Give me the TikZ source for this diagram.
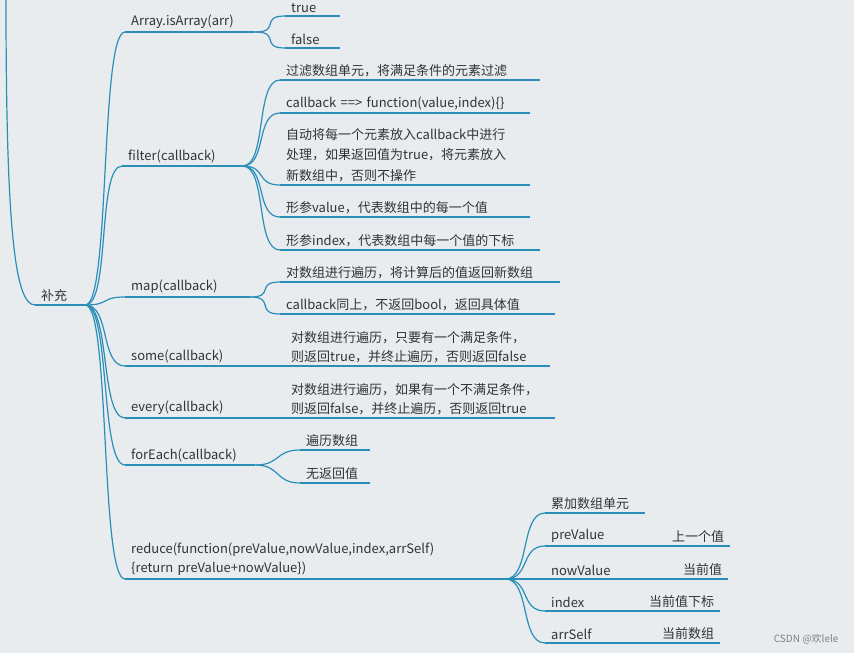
\documentclass[tikz,border=0pt]{standalone}
\usepackage{fontspec}
\setmainfont{Noto Sans CJK SC}
\definecolor{bgc}{HTML}{E9ECEF}
\definecolor{linec}{HTML}{2A8FB8}
\definecolor{txtc}{HTML}{333333}
\tikzset{
  leaf/.style={anchor=south west, inner xsep=6pt, inner ysep=3pt, align=left,
    text width=#1, text=txtc,
    append after command={(\tikzlastnode.south west) edge[branch] (\tikzlastnode.south east)}},
  branch/.style={draw=linec, line width=1.2pt},
  note/.style={anchor=south east, inner xsep=6pt, inner ysep=3pt, text=txtc}
}
\newcommand{\link}[2]{\draw[branch] (#1.south east) .. controls +(25,0) and +(-25,0) .. (#2.south west);}
\begin{document}
\begin{tikzpicture}[x=1pt,y=-1pt,font=\fontsize{13}{19}\selectfont]
  \fill[bgc] (0,0) rectangle (854,653);
  \useasboundingbox (0,0) rectangle (854,653);

  % root
  \node (root) [leaf=38pt] at (35,305) {补充};
  \coordinate (up) at (6,0);
  \draw[branch] (up) .. controls (6,230) and (15,305) .. (root.south west);

  % first level
  \node (isarr) [leaf=118pt] at (125,32) {Array.isArray(arr)};
  \node (filter) [leaf=108pt] at (122,166) {filter(callback)};
  \node (map) [leaf=113pt] at (125,297) {map(callback)};
  \node (some) [leaf=118pt] at (125,366) {some(callback)};
  \node (every) [leaf=118pt] at (125,418) {every(callback)};
  \node (foreach) [leaf=118pt] at (125,465) {forEach(callback)};
  \node (reduce) [leaf=368pt] at (125,579) {reduce(function(preValue,nowValue,index,arrSelf)\\\{return preValue+nowValue\})};
  \foreach \n in {isarr,filter,map,some,every,foreach,reduce} {\link{root}{\n}}

  % isArray
  \node (true) [leaf=43pt] at (285,16) {true};
  \node (false) [leaf=43pt] at (285,48) {false};
  \foreach \n in {true,false} {\link{isarr}{\n}}

  % filter
  \node (f1) [leaf=248pt] at (280,80) {过滤数组单元，将满足条件的元素过滤};
  \node (f2) [leaf=238pt] at (280,113) {callback ==> function(value,index)\{\}};
  \node (f3) [leaf=238pt, font=\fontsize{13}{20.5}\selectfont] at (280,185) {自动将每一个元素放入callback中进行\\处理，如果返回值为true，将元素放入\\新数组中，否则不操作};
  \node (f4) [leaf=238pt] at (280,217) {形参value，代表数组中的每一个值};
  \node (f5) [leaf=248pt] at (280,250) {形参index，代表数组中每一个值的下标};
  \foreach \n in {f1,f2,f3,f4,f5} {\link{filter}{\n}}

  % map
  \node (m1) [leaf=268pt] at (280,282) {对数组进行遍历，将计算后的值返回新数组};
  \node (m2) [leaf=263pt] at (280,314) {callback同上，不返回bool，返回具体值};
  \foreach \n in {m1,m2} {\link{map}{\n}}

  % some / every
  \node (s1) [leaf=253pt] at (285,366) {对数组进行遍历，只要有一个满足条件，\\则返回true，并终止遍历，否则返回false};
  \link{some}{s1}
  \node (e1) [leaf=258pt] at (285,418) {对数组进行遍历，如果有一个不满足条件，\\则返回false，并终止遍历，否则返回true};
  \link{every}{e1}

  % forEach
  \node (fe1) [leaf=58pt] at (300,450) {遍历数组};
  \node (fe2) [leaf=58pt] at (300,483) {无返回值};
  \foreach \n in {fe1,fe2} {\link{foreach}{\n}}

  % reduce
  \node (r1) [leaf=88pt] at (545,513) {累加数组单元};
  \node (r2) [leaf=173pt] at (545,546) {preValue};
  \node (r3) [leaf=171pt] at (545,579) {nowValue};
  \node (r4) [leaf=163pt] at (545,611) {index};
  \node (r5) [leaf=163pt] at (545,643) {arrSelf};
  \node (r2n) [note] at (r2.south east) {上一个值};
  \node (r3n) [note] at (r3.south east) {当前值};
  \node (r4n) [note] at (r4.south east) {当前值下标};
  \node (r5n) [note] at (r5.south east) {当前数组};
  \foreach \n in {r1,r2,r3,r4,r5} {\link{reduce}{\n}}

  \node (mark) [anchor=south east, text=gray, font=\fontsize{10}{12}\selectfont] at (842,648) {CSDN @欢lele};
\end{tikzpicture}
\end{document}
